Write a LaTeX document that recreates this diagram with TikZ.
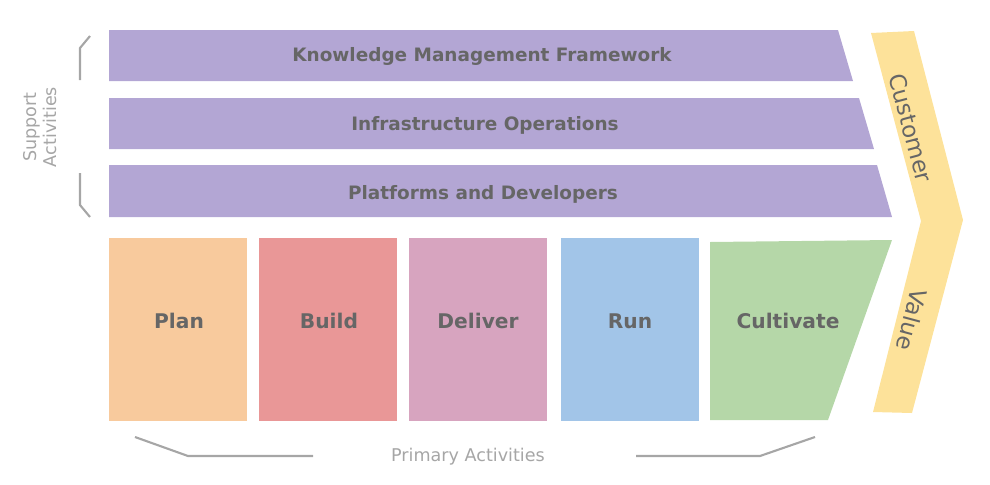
\documentclass[tikz,border=0pt]{standalone}
\usepackage{fontspec}
\setmainfont{DejaVu Sans}
\definecolor{barpurple}{HTML}{B3A6D4}
\definecolor{labelgray}{HTML}{666666}
\definecolor{linegray}{HTML}{A6A6A6}
\definecolor{planc}{HTML}{F8CA9D}
\definecolor{buildc}{HTML}{E99797}
\definecolor{deliverc}{HTML}{D7A4BF}
\definecolor{runc}{HTML}{A2C5E8}
\definecolor{cultc}{HTML}{B5D7A8}
\definecolor{valuec}{HTML}{FDE29A}
\tikzset{
  barlabel/.style={text=labelgray,font=\bfseries\fontsize{10.5}{12}\selectfont},
  boxlabel/.style={text=labelgray,font=\bfseries\fontsize{11.5}{13}\selectfont},
  sidelabel/.style={text=linegray,font=\fontsize{10}{11}\selectfont,align=center},
  chevlabel/.style={text=labelgray,font=\fontsize{13}{15}\selectfont,inner sep=0pt},
  bracket/.style={draw=linegray,line width=1.2pt}
}
\begin{document}
\begin{tikzpicture}[x=0.02cm,y=-0.02cm]
\useasboundingbox (0,0) rectangle (990,484);
% support bars
\fill[barpurple] (109,30) -- (838,30) -- (853,81) -- (109,81) -- cycle;
\fill[barpurple] (109,98) -- (859,98) -- (874,149) -- (109,149) -- cycle;
\fill[barpurple] (109,165) -- (877,165) -- (892,217) -- (109,217) -- cycle;
\node[barlabel] (kmf) at (482,56) {Knowledge Management Framework};
\node[barlabel] (infra) at (485,125) {Infrastructure Operations};
\node[barlabel] (plat) at (483,194) {Platforms and Developers};
% primary activities
\fill[planc] (109,238) rectangle (247,421);
\fill[buildc] (259,238) rectangle (397,421);
\fill[deliverc] (409,238) rectangle (547,421);
\fill[runc] (561,238) rectangle (699,421);
\fill[cultc] (710,242) -- (892,240) -- (828,420) -- (710,420) -- cycle;
\node[boxlabel] (plan) at (179,321) {Plan};
\node[boxlabel] (build) at (329,321) {Build};
\node[boxlabel] (deliver) at (478,321) {Deliver};
\node[boxlabel] (run) at (630,321) {Run};
\node[boxlabel] (cult) at (788,321) {Cultivate};
% customer value chevron
\fill[valuec] (871,33) -- (914,31) -- (963,220) -- (912,413) -- (873,412) -- (921,221) -- cycle;
\node[chevlabel,rotate=-75] (cust) at (911,128) {Customer};
\node[chevlabel,rotate=-105] (val) at (912,320) {Value};
% brackets
\draw[bracket] (90,36) -- (80,48) -- (80,80);
\draw[bracket] (80,173) -- (80,205) -- (90,217);
\node[sidelabel,rotate=90] (support) at (40,127) {Support\\Activities};
\draw[bracket] (135,437) -- (188,456) -- (313,456);
\draw[bracket] (636,456) -- (760,456) -- (815,437);
\node[sidelabel] (primary) at (468,457) {Primary Activities};
\end{tikzpicture}
\end{document}
